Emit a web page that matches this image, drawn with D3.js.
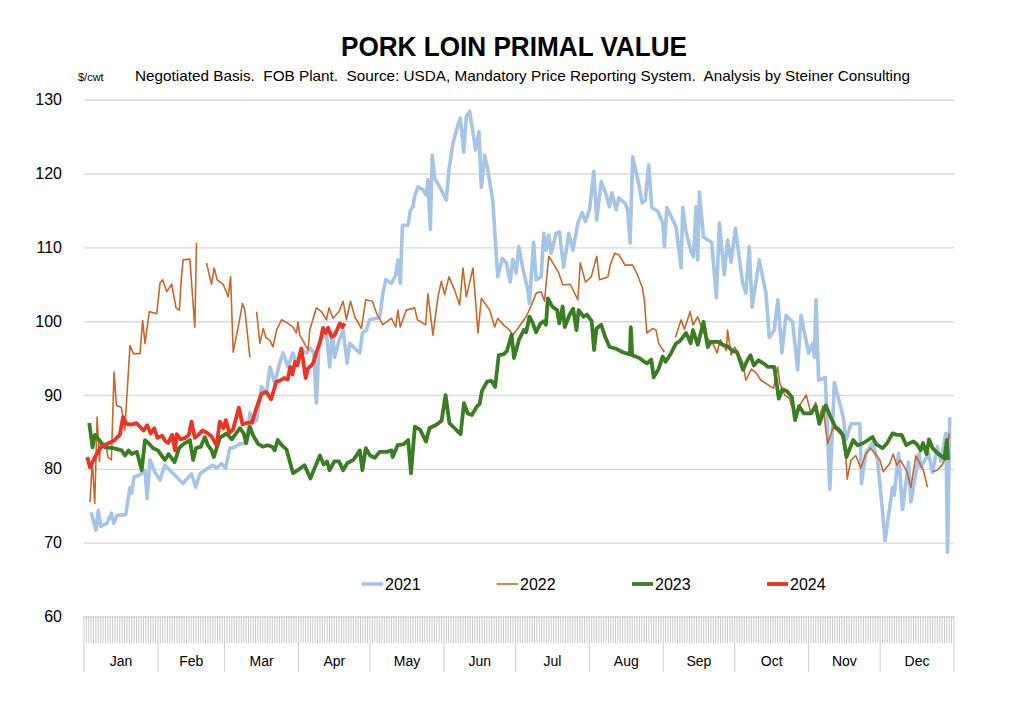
<!DOCTYPE html>
<meta charset="utf-8">

<script src="https://cdn.jsdelivr.net/npm/d3@7/dist/d3.min.js"></script>

<style>
    body { margin: 0; background: #fff; }
</style>

<div style='position: absolute; width: 1024px; height: 703px; top: 0px; left: 0px;' id="js_chart"></div>

<script>

// ******************************************
// data: [day of year, $/cwt], null = no report
// ******************************************
const years = ["2021", "2022", "2023", "2024"];
const yTicks = [60, 70, 80, 90, 100, 110, 120, 130];
const months = ["Jan", "Feb", "Mar", "Apr", "May", "Jun", "Jul", "Aug", "Sep", "Oct", "Nov", "Dec"];
const monthStarts = [0, 31, 59, 90, 120, 151, 181, 212, 243, 273, 304, 334, 365];

const pork2021 = [[3,74.1],[5,71.7],[6,74.4],[7,72.2],[9.5,72.6],[11.5,74.0],[12.5,72.6],[13.8,73.7],[17.5,73.8],[19.3,77.5],[20,76.7],[21,78.9],[23.5,79.2],[25.6,79.8],[26.5,76.0],[27.7,81.2],[29.8,79.5],[31.9,78.5],[33.9,80.5],[36,79.8],[38.9,78.9],[41.5,78.0],[43,78.6],[45.1,79.3],[46.9,77.5],[48.6,79.3],[52,80.1],[54.1,80.5],[55.6,80.1],[57.7,80.7],[59.4,80.1],[61.2,82.8],[62.9,82.9],[65.4,83.4],[68.2,83.4],[69.6,87.6],[70.8,86.1],[72.4,86.6],[74.5,91.1],[76.6,90.2],[78,93.8],[80,91.6],[82.1,94.3],[83.5,95.7],[85.6,93.8],[87.6,95.7],[89.1,94.3],[91.2,96.1],[93.3,95.7],[95,96.3],[96.4,95.7],[97.5,88.9],[98.6,97.0],[100.3,97.8],[101.7,98.4],[103.1,93.8],[104.2,98.4],[105.2,95.1],[107,97.4],[108.7,98.8],[110.4,94.3],[111.5,97.0],[113.6,96.3],[115.7,95.7],[116.8,98.4],[118.5,98.8],[119.9,100.2],[122.7,100.4],[124.1,100.6],[125.4,103.8],[126.6,105.6],[129,105.1],[130.8,106.3],[131.7,108.3],[132.7,105.1],[133.6,113.0],[135.9,113.0],[136.9,115.0],[138,115.5],[138.7,116.9],[140.1,118.2],[142.2,117.8],[143.6,117.1],[144.3,119.2],[145.3,112.4],[146.1,122.5],[147.1,119.4],[149.2,118.2],[152,116.4],[153.1,120.5],[154.8,124.1],[156.9,126.6],[157.9,127.5],[159.3,122.9],[160.4,127.7],[161.8,128.4],[163.2,125.5],[164.3,123.2],[165.7,125.7],[166.7,118.1],[168.1,122.5],[169.4,120.5],[171.5,116.4],[173,108.7],[173.6,106.0],[175.5,108.5],[177.2,107.9],[178.8,105.3],[179.9,108.4],[181.3,106.5],[182.4,110.1],[184.1,107.2],[186.2,104.2],[186.9,102.4],[188.6,110.7],[189.7,105.6],[191.8,106.0],[192.9,111.9],[193.9,109.6],[195,111.7],[196,109.2],[198.1,111.9],[199.5,112.1],[201.2,107.3],[203.4,111.9],[205.1,109.6],[207.2,113.3],[209,114.7],[210.4,113.5],[212.1,115.1],[213.9,120.3],[215.1,113.7],[217,118.9],[218.8,117.4],[220.5,115.5],[221.4,117.4],[223.3,115.1],[224.4,116.7],[227,116.0],[228.1,115.1],[229.1,110.6],[230.2,122.3],[232.3,119.2],[234.2,116.0],[235.5,116.4],[236.9,121.2],[238.2,115.4],[240.7,114.9],[242.8,113.3],[243.5,110.1],[244.5,115.4],[246.3,114.2],[248.4,112.8],[250.5,107.2],[251.2,115.4],[252.6,112.1],[254.7,109.4],[255.7,108.7],[256.8,115.5],[257.5,108.3],[258.2,117.5],[259.9,111.4],[261.7,111.0],[263.3,110.7],[265.3,103.2],[266.6,113.3],[268.6,106.3],[270,111.0],[271.5,108.0],[273.3,112.6],[276.3,105.2],[277.7,103.8],[279.1,110.1],[280.3,101.9],[283.3,108.3],[286.1,103.8],[287.5,97.8],[289.6,98.8],[291.1,102.9],[292.8,95.7],[294.5,100.8],[297.3,99.9],[299.4,93.4],[300.8,100.8],[304,95.7],[305.7,97.0],[306.4,95.1],[307.1,102.9],[308.2,92.0],[311,92.4],[312.9,77.2],[314.8,91.7],[318.5,87.0],[319.7,83.9],[321.8,86.1],[325.5,86.1],[326.2,78.0],[328,82.1],[330.8,83.5],[332.9,81.2],[334.3,76.7],[336.1,70.3],[339.2,77.5],[339.9,76.4],[341.7,82.1],[343.4,74.5],[345.9,80.9],[346.9,75.5],[350.4,82.1],[351.1,80.2],[354.3,82.1],[356,79.5],[358,83.0],[359.5,81.0],[361.6,84.8],[362.3,68.7],[363.2,87.0]];

const pork2022 = [[2.5,75.5],[3.5,81.0],[4.5,75.3],[5.5,87.0],[6.5,81.0],[7,83.4],[9.5,82.9],[10,81.6],[11.5,81.2],[12.6,93.1],[13.6,88.6],[15.7,88.3],[17.1,85.2],[19.3,96.7],[20.7,95.6],[23.5,95.6],[24.6,100.1],[25.6,97.0],[27.4,101.3],[30.5,101.0],[31.9,105.2],[33,105.6],[34.7,104.0],[36.8,105.0],[38.6,101.8],[40,101.5],[40.9,106.0],[41.6,108.3],[44.4,108.4],[46.5,99.2],[47.2,110.6],[48,null],[51.4,107.9],[53.5,105.0],[54.6,107.2],[55.9,105.6],[58.4,105.0],[60.5,103.3],[61.5,106.0],[62.6,95.8],[64.7,99.2],[66.5,102.4],[67.5,101.5],[69.6,95.1],[70.5,null],[72.4,101.3],[73.8,97.0],[75.2,99.0],[76.3,97.8],[78,97.4],[79.3,96.5],[80.8,98.8],[82.9,100.2],[85.6,99.7],[87.7,99.2],[89.1,98.4],[89.8,99.9],[90.5,98.1],[94,96.1],[94.7,98.8],[97.5,101.8],[99.6,101.3],[101.7,100.2],[102.8,101.8],[104.5,100.4],[107,101.3],[108.7,102.7],[110.1,100.2],[111.8,102.7],[113.6,100.6],[116.4,99.0],[118.2,102.9],[121,102.7],[122.7,101.1],[125.4,99.5],[129,100.4],[130.8,99.2],[131.7,101.5],[132.7,99.2],[135.2,101.5],[138.7,101.8],[139.9,100.2],[143.3,99.5],[144.3,103.7],[146.4,98.1],[148.5,103.3],[149.9,105.4],[151.3,103.6],[153.1,106.0],[155.5,104.2],[157.6,102.2],[159,107.2],[160.4,103.3],[163.2,107.2],[165.3,98.4],[166.7,103.1],[170.2,101.5],[172.3,99.2],[173.6,100.4],[176,99.5],[178.5,98.8],[179.9,98.1],[182,99.0],[185.5,100.6],[187.5,102.0],[189.7,103.8],[191.8,104.0],[193.2,102.7],[195,108.8],[196.7,107.9],[199.2,106.5],[200.9,104.9],[204,105.0],[207.2,102.9],[208.2,107.9],[210.4,105.3],[212.8,106.0],[215.1,108.8],[216.3,105.6],[219.8,106.0],[220.8,107.6],[222.6,109.2],[224.4,109.0],[227,107.6],[230.2,107.6],[232.3,106.2],[234.2,104.6],[235.1,102.9],[236.1,98.4],[238.6,99.0],[240,98.8],[241.1,97.0],[243.5,95.8],[245,null],[248.1,97.8],[250.5,100.2],[251.9,98.9],[254.3,101.3],[255.5,99.5],[257.5,100.6],[259,99.2],[261,97.8],[263.8,97.0],[265.6,95.7],[267,97.5],[269.5,96.0],[270,98.8],[271.5,95.4],[273,96.5],[276.3,94.5],[277.7,92.0],[280,93.5],[282,93.0],[284,92.0],[289.3,90.9],[291,93.8],[292,91.5],[294,90.0],[296,89.5],[298.7,86.6],[300,88.5],[303,90.0],[305,87.5],[307,89.0],[308,86.5],[310,88.5],[311,85.9],[312,83.4],[314.3,85.6],[316,85.2],[318,84.5],[319.7,81.2],[320.2,78.6],[321.8,81.2],[323.8,81.8],[325.9,80.1],[328,82.0],[330,82.8],[332,82.0],[333.9,81.2],[335.3,79.6],[338,80.7],[339.5,82.0],[341,80.5],[342.5,81.2],[345.3,79.6],[346.9,77.5],[349,81.8],[351,80.5],[352,80.0],[353.9,77.5],[355,null],[356,79.6],[358,79.8],[360,80.5],[361.5,81.5],[363,84.8]];

const pork2023 = [[2.2,86.2],[3.6,82.9],[4.6,84.6],[6.4,83.9],[8.8,82.9],[12.3,82.8],[15.8,82.5],[17.2,81.8],[18.7,82.5],[20,82.0],[22.2,82.3],[24.2,79.8],[25.6,83.9],[27,83.5],[29,82.8],[31,82.5],[33.9,81.2],[35.5,82.0],[38,80.9],[39.9,82.8],[41.5,83.3],[44.4,83.9],[45.8,81.2],[47,82.8],[49,83.0],[50.7,84.3],[52,83.2],[53.5,82.5],[54.5,81.6],[57,84.2],[59.8,84.8],[62,84.0],[65.4,85.5],[67,84.8],[68,83.5],[69.6,85.7],[71,84.5],[73,83.4],[75,83.0],[77,83.2],[79,83.0],[80,82.5],[81.3,83.9],[83,83.2],[85,82.6],[87.7,79.4],[90.5,80.0],[92.5,80.5],[95,78.7],[97,80.3],[99,81.8],[100.5,80.6],[102,81.0],[103,79.8],[105,81.0],[107,81.0],[108.7,79.8],[110.5,80.8],[113,81.2],[115.7,82.5],[116.8,79.8],[118.2,82.8],[120,81.8],[122,81.5],[124,82.3],[127,82.3],[129,82.5],[129.5,81.6],[131.6,83.2],[134,83.3],[136,83.9],[137.2,79.4],[138.8,85.7],[141,85.3],[143.5,83.7],[144.9,85.5],[148,86.0],[150,86.5],[151.7,90.0],[153.3,86.2],[155.5,85.5],[157,85.0],[158,84.7],[159.4,88.9],[161,87.5],[162.7,87.3],[165,88.5],[166,88.8],[167,90.6],[169.1,91.8],[171,91.9],[172.5,91.1],[174,95.4],[176,95.5],[177.5,96.0],[179.4,98.2],[180.4,95.0],[182.5,97.5],[184.5,98.8],[185.5,98.5],[186.9,100.6],[188.2,99.8],[189.7,98.5],[191.5,99.7],[193,100.0],[193.8,99.5],[194.6,103.1],[196.4,102.0],[198.5,101.5],[199.4,99.7],[200.8,102.0],[201.7,99.2],[203.6,100.8],[205.2,101.7],[206.6,98.8],[207.5,101.5],[209.6,100.6],[211,100.9],[213,100.0],[214,96.1],[215,99.0],[217,99.5],[218.5,98.0],[220.5,96.5],[223,96.3],[226,95.8],[229,95.5],[229.4,99.2],[230,95.4],[233,95.0],[235,94.5],[236.3,94.3],[238,94.8],[239,92.4],[241,93.5],[242.8,95.2],[244,94.5],[246,95.5],[248.4,97.0],[250,97.3],[252.6,98.4],[253.5,97.8],[254.5,97.0],[255.5,98.8],[257.5,96.8],[259.9,99.9],[261.7,96.5],[263,97.2],[266,97.2],[268,96.8],[270,96.6],[272,96.0],[274,95.8],[276.5,93.4],[278,94.5],[279.6,95.4],[281,94.0],[283,94.7],[285,94.3],[287,93.8],[289.6,93.8],[291.5,89.5],[293,90.8],[295,90.5],[297,89.7],[298.3,86.6],[300,88.5],[302,87.5],[305,87.5],[307,88.5],[308.5,86.1],[311.2,88.6],[313,87.2],[315,85.8],[317,85.2],[318.5,84.5],[319.9,81.6],[322.7,83.9],[324.5,83.2],[327,83.5],[330.8,84.3],[332.5,83.3],[335,82.8],[337,83.5],[339.2,84.8],[341,84.6],[343,84.6],[345,83.2],[346.5,83.5],[348,83.7],[349.5,83.3],[351,82.5],[352,83.5],[353.5,82.0],[354.5,84.0],[356,82.8],[358.5,82.0],[361,81.4],[362,83.9],[362.5,81.2]];

const pork2024 = [[1.4,81.6],[2.5,80.2],[4.5,81.5],[6.7,82.8],[8.5,83.2],[10.5,83.5],[12.5,83.8],[15,84.6],[16.4,87.0],[17.8,86.1],[20,86.0],[22,86.2],[23.5,85.7],[25,85.2],[26.5,85.9],[28,84.8],[29.5,85.5],[30.8,84.2],[32.8,84.5],[34,83.8],[35.3,83.5],[37,84.6],[38.2,82.5],[38.9,84.7],[40.5,84.0],[42.5,84.2],[44,84.6],[45.1,86.4],[46.5,84.2],[48,84.6],[49.7,85.2],[51.5,84.9],[53.5,84.4],[55.6,83.2],[57,86.4],[58.5,85.5],[59.5,86.6],[61,84.9],[62.5,85.3],[65,88.3],[66.5,86.0],[68,86.2],[70.5,86.3],[72.4,88.3],[74.5,90.2],[76.5,90.4],[78.5,89.4],[80.7,91.8],[82.5,92.0],[84,92.3],[85.5,92.1],[86.5,93.8],[87.5,92.8],[88.5,94.5],[89.5,94.0],[91.2,96.3],[93,92.3],[94,93.6],[95.4,94.0],[96.4,94.5],[97.5,95.8],[98.9,97.0],[100.3,99.1],[101.4,98.4],[102.4,99.1],[103.8,97.9],[105.2,98.1],[107.3,99.7],[108.4,99.2],[109.4,99.7]];

const seriesData = [pork2021, pork2022, pork2023, pork2024];
const seriesColor = ["#a6c4e6", "#c4692e", "#3a7d23", "#ea3424"];
const seriesWidth = [3.6, 1.6, 3.8, 3.8];

// ******************************************

function createPlot() {
    let width = 1024,
        height = 703;

    let x = d3.scaleLinear()
        .domain([0, 365])
        .range([84, 954]);

    let y = d3.scaleLinear()
        .domain([60, 130])
        .range([616.5, 99.7]);

    var svg = d3.select("#js_chart")
        .append("svg")
        .attr("width", width)
        .attr("height", height)
        .style("font-family", "'Liberation Sans', Arial, sans-serif");

    // titles
    svg.append("text")
        .attr("x", 514).attr("y", 56)
        .attr("text-anchor", "middle")
        .attr("textLength", 346)
        .attr("lengthAdjust", "spacingAndGlyphs")
        .style("font-family", "'Liberation Sans Narrow', 'Liberation Sans', sans-serif")
        .style("font-weight", "bold")
        .style("font-size", "27px")
        .text("PORK LOIN PRIMAL VALUE");

    svg.append("text")
        .attr("x", 78).attr("y", 81)
        .style("font-family", "'Liberation Sans Narrow', 'Liberation Sans', sans-serif")
        .style("font-size", "11px")
        .text("$/cwt");

    svg.append("text")
        .attr("x", 135).attr("y", 81)
        .attr("textLength", 775)
        .attr("lengthAdjust", "spacingAndGlyphs")
        .style("white-space", "pre")
        .style("font-family", "'Liberation Sans Narrow', 'Liberation Sans', sans-serif")
        .style("font-size", "14.5px")
        .text("Negotiated Basis.  FOB Plant.  Source: USDA, Mandatory Price Reporting System.  Analysis by Steiner Consulting");

    // y grid + labels
    let yAxis = svg.append("g")
        .attr("transform", "translate(84,0)")
        .call(d3.axisLeft(y).tickValues(yTicks).tickSize(-870).tickPadding(22).tickFormat(d3.format("d")));
    yAxis.select(".domain").remove();
    yAxis.selectAll(".tick line").attr("stroke", "#d9d9d9").attr("stroke-width", 1.4);
    yAxis.selectAll(".tick text")
        .attr("fill", "#000")
        .style("font-size", "16px")
        .style("font-family", "'Liberation Sans', Arial, sans-serif");

    // daily tick band under the plot
    svg.append("g")
        .selectAll("line")
        .data(d3.range(0, 366))
        .enter()
            .append("line")
            .attr("x1", function(d) { return x(d); })
            .attr("x2", function(d) { return x(d); })
            .attr("y1", y(60))
            .attr("y2", 643)
            .attr("stroke", "#c4c4c4")
            .attr("stroke-width", 0.9);

    // month separators + labels
    svg.append("g")
        .selectAll("line")
        .data(monthStarts)
        .enter()
            .append("line")
            .attr("x1", function(d) { return x(d); })
            .attr("x2", function(d) { return x(d); })
            .attr("y1", 643)
            .attr("y2", 672)
            .attr("stroke", "#d0d0d0")
            .attr("stroke-width", 1);

    svg.append("g")
        .selectAll("text")
        .data(months)
        .enter()
            .append("text")
            .attr("x", function(d, i) { return (x(monthStarts[i]) + x(monthStarts[i + 1])) / 2; })
            .attr("y", 666)
            .attr("text-anchor", "middle")
            .style("font-size", "14px")
            .text(function(d) { return d; });

    // series
    let line = d3.line()
        .defined(function(d) { return d[1] != null; })
        .x(function(d) { return x(d[0]); })
        .y(function(d) { return y(d[1]); });

    svg.append("g")
        .attr("id", "g_plot")
        .selectAll("path")
        .data(seriesData)
        .enter()
            .append("path")
            .attr("d", line)
            .attr("fill", "none")
            .attr("stroke", function(d, i) { return seriesColor[i]; })
            .attr("stroke-width", function(d, i) { return seriesWidth[i]; })
            .attr("stroke-linejoin", "round");

    // legend
    let legend = svg.append("g")
        .selectAll("g")
        .data(years)
        .enter()
            .append("g")
            .attr("transform", function(d, i) { return "translate(" + (362 + i * 135) + ",584)"; });

    legend.append("line")
        .attr("x1", 0).attr("x2", 21)
        .attr("stroke", function(d, i) { return seriesColor[i]; })
        .attr("stroke-width", function(d, i) { return seriesWidth[i]; });

    legend.append("text")
        .attr("x", 23).attr("y", 6)
        .style("font-size", "16px")
        .text(function(d) { return d; });
}

createPlot();

</script>
